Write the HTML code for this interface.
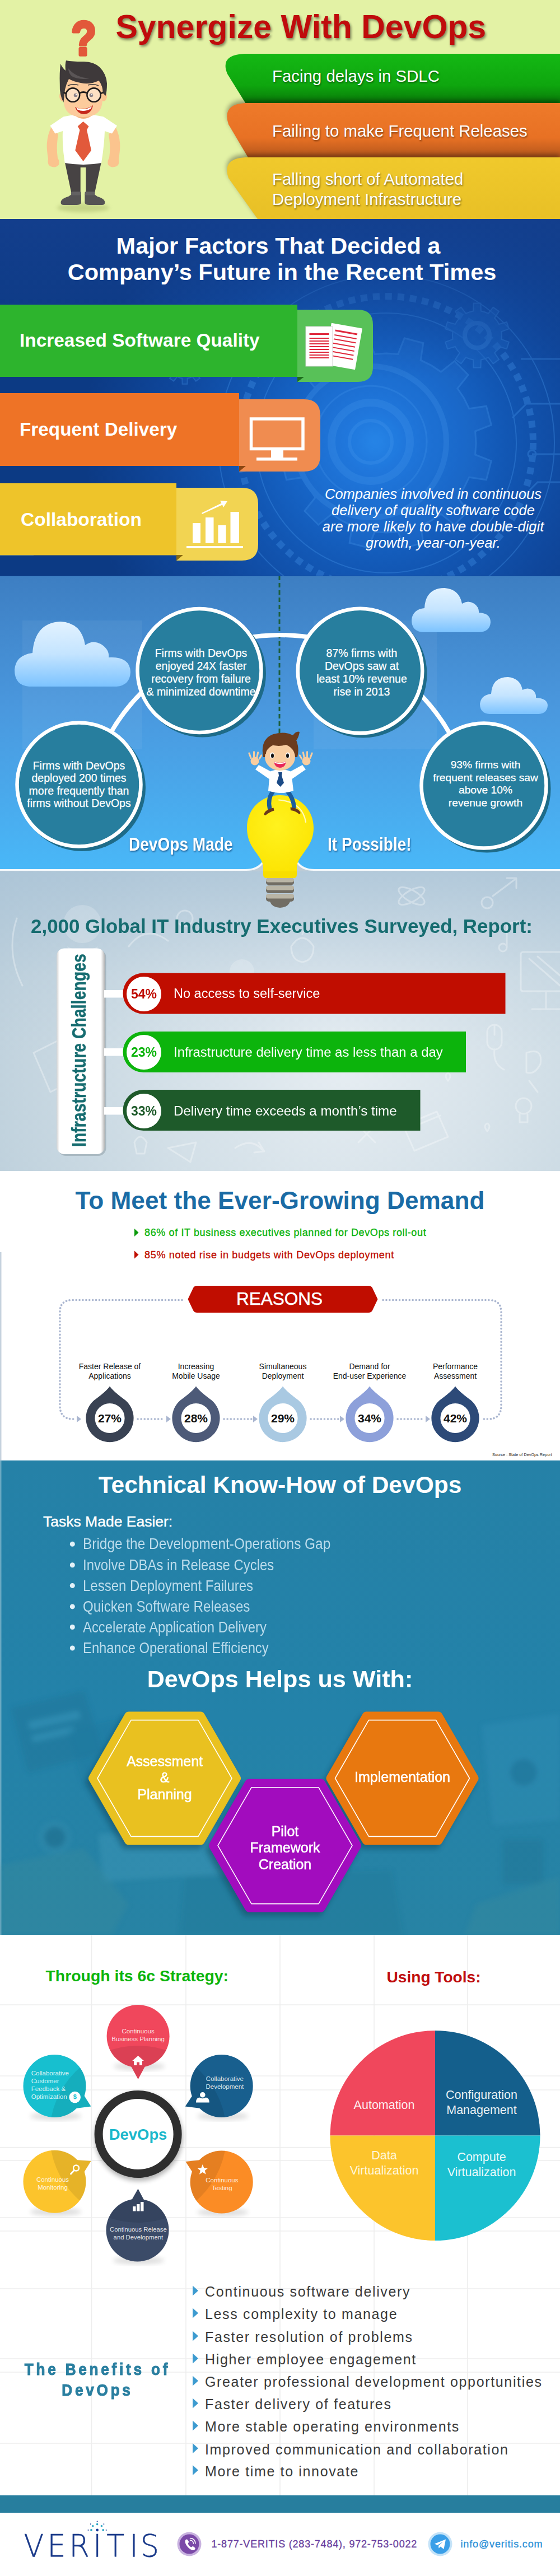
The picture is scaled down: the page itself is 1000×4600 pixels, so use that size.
<!DOCTYPE html>
<html lang="en">
<head>
<meta charset="utf-8">
<title>Synergize With DevOps</title>
<style>
html,body{margin:0;padding:0;background:#fff;}
body{width:1000px;height:4600px;position:relative;overflow:hidden;font-family:"Liberation Sans",sans-serif;}
.sec{position:absolute;left:0;width:1000px;overflow:hidden;}
.t{position:absolute;white-space:nowrap;line-height:1;}
.c{text-align:center;}
.b{font-weight:bold;}
svg{position:absolute;left:0;top:0;}
</style>
</head>
<body>
<!-- ============ HEADER ============ -->
<div class="sec" style="top:0;height:391px;background:#e3f2a5;">
<svg width="1000" height="391" viewBox="0 0 1000 391">
  <defs>
    <linearGradient id="gG" x1="0" y1="0" x2="0" y2="1"><stop offset="0" stop-color="#14b814"/><stop offset=".6" stop-color="#0ea60e"/><stop offset="1" stop-color="#086f08"/></linearGradient>
    <linearGradient id="gO" x1="0" y1="0" x2="0" y2="1"><stop offset="0" stop-color="#ee7a2a"/><stop offset=".6" stop-color="#e87124"/><stop offset="1" stop-color="#a8501a"/></linearGradient>
    <linearGradient id="gY" x1="0" y1="0" x2="0" y2="1"><stop offset="0" stop-color="#f0c92c"/><stop offset="1" stop-color="#e8c026"/></linearGradient>
    <filter id="ms" x="-20%" y="-60%" width="140%" height="220%"><feGaussianBlur stdDeviation="3"/></filter>
    <filter id="bs" x="-5%" y="-20%" width="110%" height="140%"><feGaussianBlur stdDeviation="4"/></filter>
  </defs>
  <!-- banners -->
  <path d="M1000 96 L436 96 Q392 98 406 132 L442 190 L1000 190 Z" fill="url(#gG)"/>
  <path d="M1000 182 L438 182 Q396 184 408 220 L446 286 L1000 286 Z" fill="#000" opacity=".35" filter="url(#bs)" transform="translate(0,-3)"/>
  <path d="M1000 184 L438 184 Q396 186 408 222 L447 288 L1000 288 Z" fill="url(#gO)"/>
  <path d="M1000 279 L438 279 Q396 281 408 316 L460 391 L1000 391 Z" fill="#000" opacity=".35" filter="url(#bs)" transform="translate(0,-3)"/>
  <path d="M1000 281 L438 281 Q396 283 408 318 L460 391 L1000 391 Z" fill="url(#gY)"/>

  <!-- man -->
  <ellipse cx="148.600" cy="371" rx="47" ry="8" fill="#b9c97c" opacity=".7" filter="url(#ms)"/>
  <!-- shoes -->
  <path d="M108.600 362 Q108 355 122 351 L128 347 L145 347 L145 362 Q144 366 136 366 L114 366 Q108.600 366 108.600 362 Z" fill="#555354"/>
  <path d="M187.200 362 Q188 355 174 351 L168.500 347 L151.400 347 L151.400 362 Q152 366 160 366 L182 366 Q187.200 366 187.200 362 Z" fill="#555354"/>
  <!-- pants -->
  <path d="M115.700 289 L181 289 L169 345 L153.400 345 L153.400 299 L143.700 299 L143.700 345 L127.500 345 Z" fill="#474344"/>
  <rect x="126.800" y="342.300" width="18.200" height="6.500" rx="2" fill="#636162"/>
  <rect x="151.400" y="342.300" width="18.200" height="6.500" rx="2" fill="#636162"/>
  <!-- arms -->
  <path d="M92 226 Q82 246 84 268 Q85 278 86 284 Q84 294 90 297 Q100 301 105 294 Q107 288 103 282 Q100 262 104 240 Z" fill="#fbc48e"/>
  <path d="M206 226 Q216 246 214 268 Q213 278 212 284 Q214 294 208 297 Q198 301 193 294 Q191 288 195 282 Q198 262 194 240 Z" fill="#fbc48e"/>
  <!-- shirt -->
  <path d="M113 208.500 Q149 200 185 208.500 L209 224.500 L200 238.500 L187 234 Q186 262 181 291 Q149 297 115.700 291 Q111 262 112 234 L98.500 238.500 L89.500 224.500 Z" fill="#ffffff"/>
  <!-- neck -->
  <path d="M136 200 L162 200 L162 208 Q149 216 136 208 Z" fill="#f3b47e"/>
  <!-- tie -->
  <path d="M148.600 217 L158.500 225.500 L155 232 L163 268.500 L148.600 288 L134.300 268.500 L142.500 232 L138.700 225.500 Z" fill="#e2593b"/>
  <!-- head -->
  <ellipse cx="112" cy="172" rx="6" ry="9" fill="#fbc48e"/>
  <ellipse cx="185" cy="172" rx="6" ry="9" fill="#fbc48e"/>
  <path d="M113.500 150 Q113.500 130 148 130 Q183 130 183 150 L183 178 Q183 209 148 209 Q113.500 209 113.500 178 Z" fill="#fccb9c"/>
  <!-- hair -->
  <path d="M113.500 183 Q106 170 106.800 150 Q106 130 108.100 114 Q112 122 117 126 Q116 114 118 108 Q128 110 147 110 Q166 109 178 120 Q190 132 191 149 Q191 164 188.500 171 L183.500 166 Q184 154 176.500 144 Q160 152 144 148 Q132 146 123 141 Q118 150 116 160 Q114.500 172 113.500 183 Z" fill="#3e393a"/>
  <path d="M122 122 Q134 138 160 140 Q140 143 128 136 Q122 130 122 122 Z" fill="#5a5556"/>
  <!-- eyebrows -->
  <path d="M121 153 Q130 149 140 152 M157 152 Q167 149 176 153" stroke="#3e393a" stroke-width="1.600" fill="none"/>
  <!-- glasses -->
  <circle cx="130" cy="169.600" r="12.200" fill="#fde0c4" stroke="#1f1c1c" stroke-width="2.600"/>
  <circle cx="167.600" cy="169.600" r="12.200" fill="#fde0c4" stroke="#1f1c1c" stroke-width="2.600"/>
  <path d="M142.500 166 Q149 163 155 166" stroke="#1f1c1c" stroke-width="3" fill="none"/>
  <path d="M117.800 167 L113.500 165 M179.800 167 L184.500 165" stroke="#1f1c1c" stroke-width="2.500"/>
  <circle cx="135" cy="170" r="3.300" fill="#8a8088"/><circle cx="163" cy="170" r="3.300" fill="#8a8088"/>
  <circle cx="136" cy="169" r="1.200" fill="#fff"/><circle cx="164" cy="169" r="1.200" fill="#fff"/>
  <!-- mouth -->
  <path d="M134 191 Q150 199 166 188 Q163 204 149 204 Q138 203 134 191 Z" fill="#c5281c"/>
  <path d="M136 192 Q150 199 164 190 L162.500 194 Q150 201 138.500 196 Z" fill="#fff"/>
  <!-- question mark -->
  <text x="149.500" y="98.500" font-family="Liberation Sans, sans-serif" font-weight="bold" font-size="85" fill="#e2583a" stroke="#e2583a" stroke-width="5.500" stroke-linejoin="round" text-anchor="middle" transform="translate(149.500 0) scale(.86 1) translate(-149.500 0)">?</text>
</svg>
<div class="t b" style="left:206.400px;top:19.300px;font-size:59px;color:#c00c0c;text-shadow:2px 3px 4px rgba(0,0,0,.45);">Synergize With DevOps</div>
<div class="t" style="left:486px;top:121px;font-size:29.4px;color:#fff;text-shadow:1px 2px 3px rgba(0,0,0,.45);">Facing delays in SDLC</div>
<div class="t" style="left:486px;top:219px;font-size:29.4px;color:#fff;text-shadow:1px 2px 3px rgba(0,0,0,.45);">Failing to make Frequent Releases</div>
<div class="t" style="left:486px;top:302px;font-size:29.4px;line-height:36px;color:#fff;text-shadow:1px 2px 3px rgba(0,0,0,.45);">Falling short of Automated<br>Deployment Infrastructure</div>
</div>
<!-- ============ BLUE: MAJOR FACTORS ============ -->
<div class="sec" style="top:391px;height:638px;background:#0f4696;">
<svg width="1000" height="637" viewBox="0 0 1000 637">
  <defs>
    <radialGradient id="bgB" cx="670" cy="398" r="520" gradientUnits="userSpaceOnUse">
      <stop offset="0" stop-color="#2383e6"/><stop offset=".1" stop-color="#1c74da"/><stop offset=".25" stop-color="#1767ca"/><stop offset=".45" stop-color="#1257b4"/><stop offset=".7" stop-color="#0f479c"/><stop offset="1" stop-color="#0c3a84"/>
    </radialGradient>
    <linearGradient id="bgB2" x1="0" y1="0" x2="0" y2="1"><stop offset="0" stop-color="#143f8e" stop-opacity=".85"/><stop offset=".25" stop-color="#143f8e" stop-opacity=".3"/><stop offset=".45" stop-color="#143f8e" stop-opacity="0"/></linearGradient>
  </defs>
  <rect width="1000" height="637" fill="url(#bgB)"/>
  <!-- tech decoration -->
  <g fill="none" stroke="#4a9cf0" opacity=".3">
    <path d="M850.0 400.0 L848.6 420.9 L877.3 432.2 L868.3 465.8 L837.8 461.2 L828.6 480.0 L816.9 497.4 L836.1 521.5 L811.5 546.1 L787.4 526.9 L770.0 538.6 L751.2 547.8 L755.8 578.3 L722.2 587.3 L710.9 558.6 L690.0 560.0 L669.1 558.6 L657.8 587.3 L624.2 578.3 L628.8 547.8 L610.0 538.6 L592.6 526.9 L568.5 546.1 L543.9 521.5 L563.1 497.4 L551.4 480.0 L542.2 461.2 L511.7 465.8 L502.7 432.2 L531.4 420.9 L530.0 400.0 L531.4 379.1 L502.7 367.8 L511.7 334.2 L542.2 338.8 L551.4 320.0 L563.1 302.6 L543.9 278.5 L568.5 253.9 L592.6 273.1 L610.0 261.4 L628.8 252.2 L624.2 221.7 L657.8 212.7 L669.1 241.4 L690.0 240.0 L710.9 241.4 L722.2 212.7 L755.8 221.7 L751.2 252.2 L770.0 261.4 L787.4 273.1 L811.5 253.9 L836.1 278.5 L816.9 302.6 L828.6 320.0 L837.8 338.8 L868.3 334.2 L877.3 367.8 L848.6 379.1 Z" stroke-width="3" fill="#3a8eea" fill-opacity=".45"/>
    <circle cx="662" cy="398" r="135" stroke-width="10"/>
    <circle cx="662" cy="398" r="100" stroke-width="3"/>
    <circle cx="662" cy="398" r="70" stroke-width="14"/>
    <circle cx="662" cy="398" r="38" stroke-width="6"/>
    <circle cx="690" cy="400" r="232" stroke-width="2"/>
    <circle cx="690" cy="400" r="262" stroke-width="12" stroke-dasharray="12 10"/>
    <circle cx="690" cy="400" r="300" stroke-width="2"/>
    <path d="M896.0 208.0 L895.5 214.9 L908.8 219.8 L904.9 231.9 L891.2 228.0 L887.6 233.9 L883.1 239.1 L891.0 250.9 L880.7 258.4 L872.0 247.2 L865.6 249.8 L858.9 251.5 L858.4 265.6 L845.6 265.6 L845.1 251.5 L838.4 249.8 L832.0 247.2 L823.3 258.4 L813.0 250.9 L820.9 239.1 L816.4 233.9 L812.8 228.0 L799.1 231.9 L795.2 219.8 L808.5 214.9 L808.0 208.0 L808.5 201.1 L795.2 196.2 L799.1 184.1 L812.8 188.0 L816.4 182.1 L820.9 176.9 L813.0 165.1 L823.3 157.6 L832.0 168.8 L838.4 166.2 L845.1 164.5 L845.6 150.4 L858.4 150.4 L858.9 164.5 L865.6 166.2 L872.0 168.8 L880.7 157.6 L891.0 165.1 L883.1 176.9 L887.6 182.1 L891.2 188.0 L904.9 184.1 L908.8 196.2 L895.5 201.1 Z" stroke-width="2" fill="#2f86e6" fill-opacity=".5"/>
    <circle cx="852" cy="208" r="22" stroke-width="8"/>
    <path d="M360.0 255.0 L359.6 259.7 L369.2 263.1 L366.5 271.5 L356.7 268.6 L354.3 272.6 L351.2 276.2 L356.9 284.6 L349.8 289.7 L343.6 281.7 L339.3 283.5 L334.7 284.6 L334.4 294.8 L325.6 294.8 L325.3 284.6 L320.7 283.5 L316.4 281.7 L310.2 289.7 L303.1 284.6 L308.8 276.2 L305.7 272.6 L303.3 268.6 L293.5 271.5 L290.8 263.1 L300.4 259.7 L300.0 255.0 L300.4 250.3 L290.8 246.9 L293.5 238.5 L303.3 241.4 L305.7 237.4 L308.8 233.8 L303.1 225.4 L310.2 220.3 L316.4 228.3 L320.7 226.5 L325.3 225.4 L325.6 215.2 L334.4 215.2 L334.7 225.4 L339.3 226.5 L343.6 228.3 L349.8 220.3 L356.9 225.4 L351.2 233.8 L354.3 237.4 L356.7 241.4 L366.5 238.5 L369.2 246.9 L359.6 250.3 Z" stroke-width="2" fill="#2f86e6" fill-opacity=".4"/>
    <path d="M1000 330 L940 330 L915 355 M1000 420 L950 420 M1000 470 L960 470 L935 495 M1000 250 L930 250" stroke-width="3"/>
    <circle cx="950" cy="420" r="7" stroke-width="3"/>
    <path d="M0 560 L80 560 L110 590 L260 590 M0 600 L60 600" stroke-width="3"/>
  </g>
  <rect width="1000" height="637" fill="url(#bgB2)"/>

  <!-- green -->
  <path d="M531 162 L639 162 Q666 162 666 189 L666 264 Q666 291 639 291 L531 291 Z" fill="#58c158"/>
  <path d="M531 282 L543 282 L531 291 Z" fill="#1d6e1d"/>
  <rect x="0" y="153" width="531" height="129" fill="#2db42d"/>
  <!-- doc icon -->
  <g>
    <g transform="rotate(10 613 227)">
      <rect x="585" y="190" width="56" height="75" fill="#fff"/>
      <g stroke="#e0283c"><path d="M594 202H634" stroke-width="3"/><path d="M594 210H634M594 217.500H634M594 225H634M594 232.500H634M594 240H634M594 247.500H634" stroke-width="2"/></g>
    </g>
    <rect x="546" y="192" width="48" height="71" fill="#fff" stroke="#d0d0d0" stroke-width="1"/>
    <g stroke="#e0283c"><path d="M552.500 205.500H587.500" stroke-width="3"/><path d="M552.500 213H587.500M552.500 218H587.500M552.500 223H587.500M552.500 228H587.500M552.500 233H587.500M552.500 238H587.500M552.500 243H587.500M552.500 248H587.500" stroke-width="1.800"/></g>
  </g>

  <!-- orange -->
  <path d="M427 322 L543 322 Q572 322 572 351 L572 422 Q572 451 543 451 L427 451 Z" fill="#f08c50"/>
  <path d="M427 441 L439 441 L427 451 Z" fill="#8c4612"/>
  <rect x="0" y="311" width="427" height="130" fill="#ee7326"/>
  <!-- monitor -->
  <rect x="448.5" y="357" width="92.5" height="53.5" fill="none" stroke="#fff" stroke-width="5.5"/>
  <rect x="484" y="412" width="22" height="14" fill="#fff"/>
  <rect x="458" y="426" width="73" height="5.5" fill="#fff"/>

  <!-- yellow -->
  <path d="M315 480 L432 480 Q461 480 461 509 L461 581 Q461 610 432 610 L315 610 Z" fill="#f2d452"/>
  <path d="M315 600 L327 600 L315 610 Z" fill="#8a6a10"/>
  <rect x="0" y="472" width="315" height="128.500" fill="#eec42a"/>
  <!-- bar chart -->
  <g fill="#fff">
    <rect x="344" y="543" width="14" height="36"/>
    <rect x="367" y="533" width="14.500" height="46"/>
    <rect x="389.500" y="547" width="14" height="32"/>
    <rect x="411.500" y="523" width="15.500" height="56"/>
    <rect x="333" y="584" width="101" height="4"/>
    <path d="M360 525 L361 527 L397 510.500 L399 515 L406 504 L393 503 L395.500 507.500 Z"/>
  </g>
</svg>
<div class="t b c" style="left:0;width:1000px;top:23.700px;font-size:41.5px;line-height:47.100px;color:#fff;"><span style="position:relative;left:-3px">Major Factors That Decided a</span><br><span style="position:relative;left:3.500px">Company’s Future in the Recent Times</span></div>
<div class="t b" style="left:35px;top:200px;font-size:33.4px;color:#fff;">Increased Software Quality</div>
<div class="t b" style="left:35px;top:359px;font-size:33.3px;color:#fff;">Frequent Delivery</div>
<div class="t b" style="left:37px;top:520px;font-size:33.5px;color:#fff;">Collaboration</div>
<div class="t c" style="left:573.500px;width:400px;top:477px;font-size:25.5px;line-height:29px;font-style:italic;color:#fff;">Companies involved in continuous<br>delivery of quality software code<br>are more likely to have double-digit<br>growth, year-on-year.</div>
</div>
<!-- ============ SKY: DEVOPS MADE IT POSSIBLE ============ -->
<div class="sec" style="top:1029px;height:527px;background:#4f9fe0;">
<svg width="1000" height="527" viewBox="0 1029 1000 527">
  <defs>
    <linearGradient id="sky" x1="0" y1="0" x2="0" y2="1"><stop offset="0" stop-color="#3d7ec2"/><stop offset=".45" stop-color="#4a98de"/><stop offset="1" stop-color="#49b8f8"/></linearGradient>
    <linearGradient id="cl" x1="0" y1="0" x2="0" y2="1"><stop offset="0" stop-color="#e2f2ff"/><stop offset=".5" stop-color="#c4e4ff"/><stop offset="1" stop-color="#7cc3ff"/></linearGradient>
    <radialGradient id="bulbG" cx=".45" cy=".4" r=".7"><stop offset="0" stop-color="#fff21e"/><stop offset="1" stop-color="#fce300"/></radialGradient>
  </defs>
  <rect x="0" y="1028" width="1000" height="528" fill="url(#sky)"/>
  <rect x="40" y="1108" width="214" height="230" fill="#fff" opacity=".05"/>
  <rect x="560" y="1108" width="220" height="230" fill="#fff" opacity=".05"/>
  <!-- ground -->
  <path d="M0 1552 L438 1552 Q458 1552 468 1539 L532 1539 Q542 1552 562 1552 L1000 1552 L1000 1556 L0 1556 Z" fill="#f4f8fb"/><path d="M0 1555 L440 1555 Q460 1555 469 1543 L531 1543 Q540 1555 560 1555 L1000 1555 L1000 1556 L0 1556 Z" fill="#bccbd6"/>
  <!-- clouds -->
  <g id="cloudL" fill="url(#cl)">
    <path d="M52 1226 Q26 1224 26 1196 Q28 1170 58 1166 Q62 1112 108 1110 Q146 1112 152 1152 Q166 1142 180 1150 Q196 1160 194 1174 Q232 1172 233 1200 Q232 1224 208 1226 Z"/>
  </g>
  <path fill="url(#cl)" d="M756 1129 Q735 1128 735 1107 Q737 1088 758 1086 Q760 1050 794 1050 Q820 1052 825 1078 Q836 1071 847 1078 Q856 1085 855 1094 Q876 1095 876 1111 Q875 1128 856 1129 Z"/>
  <path fill="url(#cl)" d="M874 1275 Q857 1274 857 1257 Q859 1241 877 1239 Q879 1209 907 1209 Q929 1211 933 1232 Q942 1227 951 1232 Q958 1238 957 1246 Q978 1247 978 1260 Q977 1274 962 1275 Z"/>
  <!-- dashed line -->
  <path d="M499 1028 L499 1310" stroke="#1d5f3c" stroke-width="3" stroke-dasharray="8 5" fill="none"/>
  <!-- arc -->
  <path d="M151 1483 A349 349 0 0 1 849 1483" fill="none" stroke="#fff" stroke-width="8"/>
  <!-- circles -->
  <g>
    <circle cx="146.500" cy="1406.500" r="113.500" fill="#1e6b88"/><circle cx="141" cy="1401" r="110.500" fill="#277e9e" stroke="#fff" stroke-width="6.500"/>
    <circle cx="361.500" cy="1203" r="113.500" fill="#1e6b88"/><circle cx="356" cy="1197.500" r="110.500" fill="#277e9e" stroke="#fff" stroke-width="6.500"/>
    <circle cx="648.500" cy="1203.500" r="114" fill="#1e6b88"/><circle cx="643" cy="1198" r="111.250" fill="#277e9e" stroke="#fff" stroke-width="6.500"/>
    <circle cx="869.500" cy="1408.500" r="114" fill="#1e6b88"/><circle cx="864" cy="1403" r="111.500" fill="#277e9e" stroke="#fff" stroke-width="6.500"/>
  </g>
  <!-- bulb -->
  <path d="M500 1420 C535 1420 560 1446 560 1478 C560 1500 550 1512 543 1522 C536 1532 531 1538 530 1548 L530 1556 L470 1556 L470 1548 C469 1538 464 1532 457 1522 C450 1512 441 1500 441 1478 C441 1446 465 1420 500 1420 Z" fill="url(#bulbG)"/>
  <path d="M498 1428.500 Q540 1432 546 1468" fill="none" stroke="#fffbd0" stroke-width="2.200" stroke-linecap="round" opacity=".9"/>
  <!-- person -->
  <!-- legs -->
  <path d="M487 1414 Q478 1426 481.500 1443" fill="none" stroke="#1b5c9c" stroke-width="7.500" stroke-linecap="round"/>
  <path d="M514 1414 Q524 1426 525 1441" fill="none" stroke="#1b5c9c" stroke-width="7.500" stroke-linecap="round"/>
  <path d="M471.500 1455 Q472 1446 488.500 1442.500 L489.500 1447.500 Q481 1450 474 1456 Z" fill="#6a3a1c"/>
  <path d="M536.800 1452 Q534 1443 518.500 1441.500 L519 1447 Q528 1448 534.500 1454 Z" fill="#6a3a1c"/>
  <!-- arms -->
  <path d="M484 1378 L462 1366 L456 1374 L482 1392 Z" fill="#fff"/>
  <path d="M518 1378 L540 1366 L546 1374 L520 1392 Z" fill="#fff"/>
  <g fill="#f9cda0">
    <circle cx="455" cy="1359" r="7.500"/><rect x="447" y="1343" width="3" height="12" rx="1.500" transform="rotate(-20 448 1355)"/><rect x="452" y="1341" width="3" height="13" rx="1.500"/><rect x="457" y="1342" width="3" height="12" rx="1.500" transform="rotate(12 458 1354)"/><rect x="461" y="1346" width="3" height="10" rx="1.500" transform="rotate(30 462 1356)"/>
    <circle cx="547" cy="1359" r="7.500"/><rect x="552" y="1343" width="3" height="12" rx="1.500" transform="rotate(20 554 1355)"/><rect x="547" y="1341" width="3" height="13" rx="1.500"/><rect x="542" y="1342" width="3" height="12" rx="1.500" transform="rotate(-12 544 1354)"/><rect x="538" y="1346" width="3" height="10" rx="1.500" transform="rotate(-30 540 1356)"/>
  </g>
  <!-- body -->
  <path d="M482 1378 Q500 1370 520 1378 L524 1412 Q502 1420 479 1412 Z" fill="#fff"/>
  <path d="M497 1379 L504 1379 L503 1385 L507 1398 L500.500 1405 L494 1398 L498 1385 Z" fill="#1b4a86"/>
  <!-- head -->
  <path d="M470 1352 Q464 1320 488 1311 Q508 1305 523 1313 Q529 1305 535 1307 Q533 1318 529 1322 Q535 1336 531 1352 Z" fill="#6b3c1e"/>
  <ellipse cx="500" cy="1352" rx="27" ry="24" fill="#f9cda0"/>
  <path d="M472 1346 Q468 1322 488 1312 Q508 1306 523 1314 L529 1322 Q533 1334 529 1346 L526 1346 Q526 1334 519 1327 Q500 1336 481 1329 Q475 1336 475 1346 Z" fill="#6b3c1e"/>
  <ellipse cx="486" cy="1349" rx="4" ry="5.500" fill="#fff"/><ellipse cx="514" cy="1349" rx="4" ry="5.500" fill="#fff"/>
  <ellipse cx="486.500" cy="1349.500" rx="2.500" ry="4" fill="#111"/><ellipse cx="513.500" cy="1349.500" rx="2.500" ry="4" fill="#111"/>
  <path d="M489 1360 Q500 1364 511 1360 Q509 1371 500 1371 Q491 1371 489 1360 Z" fill="#e8275a"/>
  <path d="M490 1360.500 Q500 1364 510 1360.500 L509.500 1362.500 Q500 1366 490.500 1362.500 Z" fill="#fff"/>
</svg>
<div class="t c" style="left:31px;width:220px;top:327px;font-size:19.5px;line-height:22.4px;color:#fff;-webkit-text-stroke:.25px #fff;">Firms with DevOps<br>deployed 200 times<br>more frequently than<br>firms without DevOps</div>
<div class="t c" style="left:249px;width:220px;top:126px;font-size:19.5px;line-height:22.9px;color:#fff;-webkit-text-stroke:.25px #fff;">Firms with DevOps<br>enjoyed 24X faster<br>recovery from failure<br>&amp; minimized downtime</div>
<div class="t c" style="left:536px;width:220px;top:126px;font-size:19.5px;line-height:22.9px;color:#fff;-webkit-text-stroke:.25px #fff;">87% firms with<br>DevOps saw at<br>least 10% revenue<br>rise in 2013</div>
<div class="t c" style="left:757px;width:220px;top:326px;font-size:19.2px;line-height:22.7px;color:#fff;-webkit-text-stroke:.25px #fff;">93% firms with<br>frequent releases saw<br>above 10%<br>revenue growth</div>
<div class="t b" style="left:230px;top:462px;font-size:33px;color:#fff;text-shadow:1px 2px 3px rgba(0,40,90,.6);transform:scaleX(.85);transform-origin:0 0;">DevOps Made</div>
<div class="t b" style="left:585px;top:462px;font-size:33px;color:#fff;text-shadow:1px 2px 3px rgba(0,40,90,.6);transform:scaleX(.85);transform-origin:0 0;">It Possible!</div>
</div>
<!-- ============ SURVEY ============ -->
<div class="sec" style="top:1556px;height:535px;background:#d3dde4;">
<svg width="1000" height="535" viewBox="0 1556 1000 535">
  <defs>
    <radialGradient id="gr" cx="620" cy="1900" r="700" gradientUnits="userSpaceOnUse"><stop offset="0" stop-color="#e6edf2"/><stop offset=".5" stop-color="#d2dfe7"/><stop offset="1" stop-color="#bccfdb"/></radialGradient>
    <linearGradient id="grT" x1="0" y1="0" x2="0" y2="1"><stop offset="0" stop-color="#a8c2d6" stop-opacity=".75"/><stop offset=".35" stop-color="#a8c2d6" stop-opacity=".15"/><stop offset=".6" stop-color="#a8c2d6" stop-opacity="0"/></linearGradient>
    <linearGradient id="lbl" x1="0" y1="0" x2="1" y2="0"><stop offset="0" stop-color="#d0d0d0"/><stop offset=".06" stop-color="#fff"/><stop offset=".92" stop-color="#fff"/><stop offset="1" stop-color="#b5b5b5"/></linearGradient>
  </defs>
  <rect x="0" y="1556" width="1000" height="535" fill="url(#gr)"/><rect x="0" y="1556" width="1000" height="535" fill="url(#grT)"/>
  <!-- doodles -->
  <g fill="none" stroke="#fff" stroke-width="3" opacity=".32" stroke-linecap="round" stroke-linejoin="round">
    <rect x="930" y="1700" width="90" height="70" rx="4"/><path d="M945 1712 L1000 1760 M960 1708 L1000 1742 M975 1770 L975 1800 M950 1802 L1000 1802"/>
    <path d="M880 1600 L920 1570 M905 1568 L922 1568 L922 1586"/><circle cx="870" cy="1612" r="10"/>
    <ellipse cx="735" cy="1600" rx="26" ry="10" transform="rotate(30 735 1600)"/><ellipse cx="735" cy="1600" rx="26" ry="10" transform="rotate(-30 735 1600)"/>
    <path d="M905 1650 L905 1690 M905 1650 L925 1645"/><circle cx="898" cy="1692" r="7"/>
    <path d="M620 1660 Q612 1650 620 1646 Q628 1650 620 1660 Z"/>
    <rect x="870" y="1830" width="26" height="44" rx="13"/><path d="M883 1830 L883 1848 M883 1874 Q880 1900 900 1910"/>
    <path d="M940 1880 Q970 1870 965 1900 Q955 1920 940 1915 Z"/><path d="M945 1930 L960 1950"/>
    <circle cx="935" cy="1975" r="14"/><path d="M928 1990 L928 2004 L942 2004 L942 1990"/>
    <path d="M800 1930 Q792 1920 800 1916 Q808 1920 800 1930 Z M870 2020 Q862 2010 870 2006 Q878 2010 870 2020 Z"/>
    <path d="M720 2010 L780 1985 L800 2030 L740 2055 Z M728 2016 L786 1992"/>
    <path d="M640 2010 L670 2040 M670 2010 L640 2040"/>
    <path d="M60 1880 L120 1850 L150 1920 L90 1950 Z"/>
    <path d="M230 1690 Q260 1650 300 1680"/><circle cx="330" cy="1640" r="14"/>
    <path d="M300 2050 L350 2040 L340 2075 Z M240 2040 Q250 2020 262 2040 L258 2060 L244 2060 Z"/>
    <path d="M420 2050 Q450 2030 470 2055 M462 2040 L472 2056 L454 2058"/>
    <path d="M30 1640 Q10 1700 40 1760"/>
    <path d="M520 1690 Q540 1660 560 1690 Q560 1715 540 1718 Q520 1715 520 1690 Z M540 1668 L545 1655"/>
  </g>
  <g fill="#fff" opacity=".2"><circle cx="147" cy="1650" r="34"/><path d="M120 1690 Q147 1705 175 1690 L168 1712 L126 1712 Z"/><circle cx="432" cy="1735" r="22"/></g>
  <!-- bulb base -->
  <path d="M470 1556 L530 1556 L530 1562 Q530 1568 524 1568 L476 1568 Q470 1568 470 1562 Z" fill="#f8de00"/>
  <g>
    <rect x="475" y="1568" width="50" height="12.500" rx="5" fill="#716d64"/><rect x="475" y="1568" width="50" height="7.500" rx="4" fill="#b9b5a6"/>
    <rect x="475" y="1581.500" width="50" height="13.500" rx="5" fill="#716d64"/><rect x="475" y="1581.500" width="50" height="8" rx="4" fill="#b9b5a6"/>
    <rect x="475" y="1596.500" width="50" height="13.500" rx="5" fill="#716d64"/><rect x="475" y="1596.500" width="50" height="8" rx="4" fill="#b9b5a6"/>
    <path d="M482 1610 L518 1610 Q514 1620.500 500 1621 Q486 1620.500 482 1610 Z" fill="#716d64"/>
  </g>
  <!-- label box -->
  <rect x="103.500" y="1696" width="86" height="368" rx="14" fill="#7a8a90" opacity=".4"/>
  <rect x="101" y="1693.500" width="86" height="367.500" rx="14" fill="url(#lbl)"/>
  <!-- connectors -->
  <g fill="#fff"><rect x="186" y="1768" width="44" height="13.500"/><rect x="186" y="1872" width="44" height="13.500"/><rect x="186" y="1977" width="44" height="13.500"/></g>
  <!-- bars -->
  <path d="M256 1737.500 L902.500 1737.500 L902.500 1810.500 L256 1810.500 A36.500 36.500 0 0 1 256 1737.500 Z" fill="#c00d00"/>
  <path d="M256 1842 L832 1842 L832 1915 L256 1915 A36.500 36.500 0 0 1 256 1842 Z" fill="#0cb40c"/>
  <path d="M256 1946 L750.500 1946 L750.500 2019 L256 2019 A36.500 36.500 0 0 1 256 1946 Z" fill="#1e5a2a"/>
  <g fill="#fff"><circle cx="257" cy="1775" r="31"/><circle cx="257" cy="1879" r="31"/><circle cx="257" cy="1984" r="31"/></g>
</svg>
<div class="t b c" style="left:3px;width:1000px;top:81px;font-size:34.9px;color:#166c70;">2,000 Global IT Industry Executives Surveyed, Report:</div>
<div class="t b" style="left:122.500px;top:492px;font-size:35px;color:#166c70;-webkit-text-stroke:.5px #166c70;transform-origin:0 0;transform:rotate(-90deg) scaleX(.8135);">Infrastructure Challenges</div>
<div class="t b c" style="left:227px;width:60px;top:207.5px;font-size:23px;color:#c00d00;">54%</div>
<div class="t b c" style="left:227px;width:60px;top:311.5px;font-size:23px;color:#0cb40c;">23%</div>
<div class="t b c" style="left:227px;width:60px;top:416.5px;font-size:23px;color:#1e5a2a;">33%</div>
<div class="t" style="left:310px;top:207px;font-size:23.5px;color:#fff;">No access to self-service</div>
<div class="t" style="left:310px;top:311px;font-size:23.9px;color:#fff;">Infrastructure delivery time as less than a day</div>
<div class="t" style="left:310px;top:416px;font-size:24.1px;color:#fff;">Delivery time exceeds a month’s time</div>
</div>
<!-- ============ DEMAND ============ -->
<div class="sec" style="top:2091px;height:517px;background:#fff;">
<svg width="1000" height="517" viewBox="0 2091 1000 517">
  <rect x="0" y="2236" width="2.500" height="372" fill="#c5d2de"/>
  
  <!-- reasons banner -->
  <path d="M335.500 2320 L345 2300 Q347 2296 352 2296 L658 2296 Q663 2296 665 2300 L674.500 2320 L665 2340 Q663 2344 658 2344 L352 2344 Q347 2344 345 2340 Z" fill="#c00d00"/>
  <!-- dotted frame -->
  <g fill="none" stroke="#aab6d0" stroke-width="3.600" stroke-linecap="round" stroke-dasharray="0.1 5.800">
    <path d="M325 2321.500 L129 2321.500 Q107 2321.500 107 2343 L107 2510 Q107 2534 130 2534 L134 2534"/>
    <path d="M684 2321.500 L873 2321.500 Q895 2321.500 895 2343 L895 2510 Q895 2534 872 2534 L862 2534"/>
  </g>
  <path d="M137 2528 L145 2534 L137 2540 Z" fill="#aab6d0"/>
  <!-- bullets -->
  <path d="M240 2194 L247.500 2201 L240 2208 Z" fill="#0a9a0a"/>
  <path d="M240 2233.500 L247.500 2240.500 L240 2247.500 Z" fill="#c00d00"/>
  <path d="M196 2475.5 Q202.0 2484.5 224.3 2500.7 A42.6 42.6 0 1 1 167.7 2500.7 Q190.0 2484.5 196 2475.5 Z" fill="#394253"/><circle cx="196" cy="2532.5" r="26.6" fill="#fff"/><path d="M350 2475.5 Q356.0 2484.5 378.3 2500.7 A42.6 42.6 0 1 1 321.7 2500.7 Q344.0 2484.5 350 2475.5 Z" fill="#4d5a78"/><circle cx="350" cy="2532.5" r="26.6" fill="#fff"/><path d="M505 2475.5 Q511.0 2484.5 533.3 2500.7 A42.6 42.6 0 1 1 476.7 2500.7 Q499.0 2484.5 505 2475.5 Z" fill="#a9c9e2"/><circle cx="505" cy="2532.5" r="26.6" fill="#fff"/><path d="M660 2475.5 Q666.0 2484.5 688.3 2500.7 A42.6 42.6 0 1 1 631.7 2500.7 Q654.0 2484.5 660 2475.5 Z" fill="#8da0da"/><circle cx="660" cy="2532.5" r="26.6" fill="#fff"/><path d="M813 2475.5 Q819.0 2484.5 841.3 2500.7 A42.6 42.6 0 1 1 784.7 2500.7 Q807.0 2484.5 813 2475.5 Z" fill="#2d4a78"/><circle cx="813" cy="2532.5" r="26.6" fill="#fff"/><path d="M246 2534 L294 2534" stroke="#aab6d0" stroke-width="3.600" stroke-linecap="round" stroke-dasharray="0.1 6" fill="none"/><path d="M297 2528 L305 2534 L297 2540 Z" fill="#aab6d0"/><path d="M400 2534 L449 2534" stroke="#aab6d0" stroke-width="3.600" stroke-linecap="round" stroke-dasharray="0.1 6" fill="none"/><path d="M452 2528 L460 2534 L452 2540 Z" fill="#aab6d0"/><path d="M555 2534 L604 2534" stroke="#aab6d0" stroke-width="3.600" stroke-linecap="round" stroke-dasharray="0.1 6" fill="none"/><path d="M607 2528 L615 2534 L607 2540 Z" fill="#aab6d0"/><path d="M710 2534 L757 2534" stroke="#aab6d0" stroke-width="3.600" stroke-linecap="round" stroke-dasharray="0.1 6" fill="none"/><path d="M760 2528 L768 2534 L760 2540 Z" fill="#aab6d0"/>
</svg>
<div class="t b c" style="left:0;width:1000px;top:31px;font-size:44.2px;color:#1a6ba5;">To Meet the Ever-Growing Demand</div>
<div class="t" style="left:258px;top:101px;font-size:18px;letter-spacing:.62px;-webkit-text-stroke:.35px #0cb40c;color:#0cb40c;">86% of IT business executives planned for DevOps roll-out</div>
<div class="t" style="left:258px;top:140.500px;font-size:18px;letter-spacing:.68px;-webkit-text-stroke:.35px #c00d00;color:#c00d00;">85% noted rise in budgets with DevOps deployment</div>
<div class="t c" style="left:329.500px;width:339px;top:213px;font-size:31.5px;color:#fff;-webkit-text-stroke:.5px #fff;">REASONS</div>
<div class="t b c" style="left:156px;width:80px;top:431.0px;font-size:21px;color:#111;">27%</div><div class="t c" style="left:116px;width:160px;top:341px;font-size:14px;line-height:17.3px;color:#111;">Faster Release of<br>Applications</div><div class="t b c" style="left:310px;width:80px;top:431.0px;font-size:21px;color:#111;">28%</div><div class="t c" style="left:270px;width:160px;top:341px;font-size:14px;line-height:17.3px;color:#111;">Increasing<br>Mobile Usage</div><div class="t b c" style="left:465px;width:80px;top:431.0px;font-size:21px;color:#111;">29%</div><div class="t c" style="left:425px;width:160px;top:341px;font-size:14px;line-height:17.3px;color:#111;">Simultaneous<br>Deployment</div><div class="t b c" style="left:620px;width:80px;top:431.0px;font-size:21px;color:#111;">34%</div><div class="t c" style="left:580px;width:160px;top:341px;font-size:14px;line-height:17.3px;color:#111;">Demand for<br>End-user Experience</div><div class="t b c" style="left:773px;width:80px;top:431.0px;font-size:21px;color:#111;">42%</div><div class="t c" style="left:733px;width:160px;top:341px;font-size:14px;line-height:17.3px;color:#111;">Performance<br>Assessment</div>
<div class="t" style="left:879px;top:503px;font-size:7.3px;color:#333;">Source : State of DevOps Report</div>
</div>
<!-- ============ TECHNICAL KNOW-HOW ============ -->
<div class="sec" style="top:2608px;height:846.500px;background:#2781a4;">
<svg width="1000" height="848" viewBox="0 2608 1000 848">
  <defs>
    <linearGradient id="tl" x1="0" y1="0" x2="0" y2="1"><stop offset="0" stop-color="#2581a7"/><stop offset=".55" stop-color="#2382a9"/><stop offset="1" stop-color="#2783a4"/></linearGradient>
    <filter id="ph" x="-5%" y="-5%" width="110%" height="110%"><feGaussianBlur stdDeviation="5"/></filter>
    <filter id="hs" x="-10%" y="-10%" width="120%" height="120%"><feGaussianBlur stdDeviation="5"/></filter>
  </defs>
  <rect x="0" y="2608" width="1000" height="848" fill="url(#tl)"/>
  <rect x="0" y="2608" width="2.500" height="848" fill="#6aa9c2"/>
  <!-- faint desk photo hints -->
  <g opacity=".55" filter="url(#ph)">
    <path d="M20 3050 L150 3020 L185 3130 L50 3165 Z" fill="#1c6d90" opacity=".55"/>
    <path d="M50 3075 L140 3055 L144 3068 L54 3088 Z M56 3100 L130 3083 L133 3094 L59 3111 Z" fill="#4aa6cc" opacity=".6"/>
    <path d="M120 3090 L260 3060 L290 3160 L150 3190 Z" fill="#1f7398" opacity=".4"/>
    <circle cx="98" cy="3281" r="30" fill="#3b93b4" opacity=".5"/><circle cx="98" cy="3281" r="19" fill="#185f7c" opacity=".7"/>
    <path d="M175 3275 L400 3262 L415 3345 L185 3360 Z" fill="#5db0cc" opacity=".4"/>
    <path d="M0 3330 L150 3300 L230 3400 L200 3456 L0 3456 Z" fill="#3f8f9c" opacity=".5"/>
    <path d="M330 3350 L700 3340 L720 3456 L320 3456 Z" fill="#1e6f8c" opacity=".35"/>
    <path d="M860 3080 L1000 3060 L1000 3250 L880 3260 Z" fill="#3d9cc2" opacity=".4"/>
    <circle cx="935" cy="3165" r="24" fill="#1b6888" opacity=".6"/>
    <rect x="898" y="3285" width="72" height="80" rx="6" fill="#1e6f8c" opacity=".55"/>
    <path d="M1000 3350 L850 3400 L830 3456 L1000 3456 Z" fill="#3f8f9c" opacity=".5"/>
  </g>
  <polygon points="417.0,3182.5 353.0,3293.4 225.0,3293.4 161.0,3182.5 225.0,3071.6 353.0,3071.6" fill="#0d3d52" stroke="#0d3d52" stroke-width="16" stroke-linejoin="round" opacity=".45" filter="url(#hs)"/><polygon points="422.0,3175.5 358.0,3286.4 230.0,3286.4 166.0,3175.5 230.0,3064.6 358.0,3064.6" fill="#e9c120" stroke="#e9c120" stroke-width="16" stroke-linejoin="round"/><polygon points="414.0,3175.5 354.0,3279.4 234.0,3279.4 174.0,3175.5 234.0,3071.6 354.0,3071.6" fill="none" stroke="#fff" stroke-width="1.6" stroke-linejoin="round"/><polygon points="841.5,3182.5 777.5,3293.4 649.5,3293.4 585.5,3182.5 649.5,3071.6 777.5,3071.6" fill="#0d3d52" stroke="#0d3d52" stroke-width="16" stroke-linejoin="round" opacity=".45" filter="url(#hs)"/><polygon points="846.5,3175.5 782.5,3286.4 654.5,3286.4 590.5,3175.5 654.5,3064.6 782.5,3064.6" fill="#e8780f" stroke="#e8780f" stroke-width="16" stroke-linejoin="round"/><polygon points="838.5,3175.5 778.5,3279.4 658.5,3279.4 598.5,3175.5 658.5,3071.6 778.5,3071.6" fill="none" stroke="#fff" stroke-width="1.6" stroke-linejoin="round"/><polygon points="632.0,3302.7 568.0,3413.6 440.0,3413.6 376.0,3302.7 440.0,3191.8 568.0,3191.8" fill="#0d3d52" stroke="#0d3d52" stroke-width="16" stroke-linejoin="round" opacity=".45" filter="url(#hs)"/><polygon points="637.0,3295.7 573.0,3406.6 445.0,3406.6 381.0,3295.7 445.0,3184.8 573.0,3184.8" fill="#a20cbe" stroke="#a20cbe" stroke-width="16" stroke-linejoin="round"/><polygon points="629.0,3295.7 569.0,3399.6 449.0,3399.6 389.0,3295.7 449.0,3191.8 569.0,3191.8" fill="none" stroke="#fff" stroke-width="1.6" stroke-linejoin="round"/>
<circle cx="129.300" cy="2757.3" r="4.500" fill="#e2f1f8"/><circle cx="129.300" cy="2794.8" r="4.500" fill="#e2f1f8"/><circle cx="129.300" cy="2831.4" r="4.500" fill="#e2f1f8"/><circle cx="129.300" cy="2868.9" r="4.500" fill="#e2f1f8"/><circle cx="129.300" cy="2905.5" r="4.500" fill="#e2f1f8"/><circle cx="129.300" cy="2943.0" r="4.500" fill="#e2f1f8"/>
</svg>
<div class="t b c" style="left:0;width:1000px;top:23px;font-size:42.5px;color:#fff;">Technical Know-How of DevOps</div>
<div class="t" style="left:77px;top:95.500px;font-size:26.5px;color:#fff;-webkit-text-stroke:.4px #fff;">Tasks Made Easier:</div>

<div class="t" style="left:147.500px;top:135.4px;font-size:27.4px;color:#bcdcec;transform:scaleX(0.891);transform-origin:0 0;">Bridge the Development-Operations Gap</div><div class="t" style="left:147.500px;top:172.9px;font-size:27.4px;color:#bcdcec;transform:scaleX(0.872);transform-origin:0 0;">Involve DBAs in Release Cycles</div><div class="t" style="left:147.500px;top:209.5px;font-size:27.4px;color:#bcdcec;transform:scaleX(0.876);transform-origin:0 0;">Lessen Deployment Failures</div><div class="t" style="left:147.500px;top:247.0px;font-size:27.4px;color:#bcdcec;transform:scaleX(0.883);transform-origin:0 0;">Quicken Software Releases</div><div class="t" style="left:147.500px;top:283.6px;font-size:27.4px;color:#bcdcec;transform:scaleX(0.872);transform-origin:0 0;">Accelerate Application Delivery</div><div class="t" style="left:147.500px;top:321.1px;font-size:27.4px;color:#bcdcec;transform:scaleX(0.869);transform-origin:0 0;">Enhance Operational Efficiency</div>
<div class="t b c" style="left:0;width:1000px;top:369px;font-size:43.2px;color:#fff;">DevOps Helps us With:</div>
<div class="t c" style="left:194px;width:200px;top:522.500px;font-size:25px;line-height:29.6px;color:#fff;-webkit-text-stroke:.55px #fff;">Assessment<br>&amp;<br>Planning</div>
<div class="t c" style="left:618.500px;width:200px;top:553px;font-size:25px;color:#fff;-webkit-text-stroke:.55px #fff;">Implementation</div>
<div class="t c" style="left:409px;width:200px;top:647.500px;font-size:25px;line-height:29.6px;color:#fff;-webkit-text-stroke:.55px #fff;">Pilot<br>Framework<br>Creation</div>
</div>
<!-- ============ 6C STRATEGY / TOOLS / BENEFITS ============ -->
<div class="sec" style="top:3456px;height:1000px;background:#fff;">
<svg width="1000" height="1000" viewBox="0 3456 1000 1000">
<defs><clipPath id="cp_red"><circle cx="246.6" cy="3636" r="56"/></clipPath><clipPath id="cp_blue"><circle cx="395.7" cy="3725" r="56"/></clipPath><clipPath id="cp_orange"><circle cx="395.7" cy="3896.6" r="56"/></clipPath><clipPath id="cp_slate"><circle cx="245.5" cy="3982.5" r="56"/></clipPath><clipPath id="cp_yellow"><circle cx="97.5" cy="3895.8" r="56"/></clipPath><clipPath id="cp_cyan"><circle cx="97.5" cy="3725" r="56"/></clipPath><clipPath id="cp_all"><circle cx="246.6" cy="3636" r="56"/><polygon points="232,3686 261,3686 246.6,3713"/><circle cx="395.7" cy="3725" r="56"/><polygon points="330.7,3761.6 347,3737 359,3765"/><circle cx="395.7" cy="3896.6" r="56"/><polygon points="331.4,3860 359,3857 347,3884"/><circle cx="245.5" cy="3982.5" r="56"/><polygon points="232,3934 260,3934 246.5,3908.6"/><circle cx="97.5" cy="3895.8" r="56"/><polygon points="162.5,3859 135,3857 147,3884"/><circle cx="97.5" cy="3725" r="56"/><polygon points="162.5,3761.6 147,3737 135,3765"/></clipPath><filter id="bsh" x="-20%" y="-20%" width="140%" height="140%"><feGaussianBlur stdDeviation="4"/></filter></defs><path d="M163.5 3456 L163.5 4456 M332 3456 L332 4456 M500 3456 L500 4456 M668 3456 L668 4456 M835 3456 L835 4456 M0 3580 L1000 3580 M0 3707 L1000 3707 M0 3732 L1000 3732 M0 3834.6 L1000 3834.6 M0 3858 L1000 3858 M0 3960 L1000 3960 M0 3984 L1000 3984 M0 4087 L1000 4087 M0 4212 L1000 4212 M0 4236 L1000 4236 M0 4363 L1000 4363" stroke="#eeeeee" stroke-width="1.600" fill="none"/><ellipse cx="248.6" cy="3690" rx="46" ry="7" fill="#000" opacity=".13" filter="url(#bsh)"/><polygon points="232,3686 261,3686 246.6,3713" fill="#f0475c"/><circle cx="246.6" cy="3636" r="56" fill="#f0475c"/><ellipse cx="397.7" cy="3779" rx="46" ry="7" fill="#000" opacity=".13" filter="url(#bsh)"/><polygon points="330.7,3761.6 347,3737 359,3765" fill="#185f8e"/><circle cx="395.7" cy="3725" r="56" fill="#185f8e"/><ellipse cx="397.7" cy="3950.6" rx="46" ry="7" fill="#000" opacity=".13" filter="url(#bsh)"/><polygon points="331.4,3860 359,3857 347,3884" fill="#fb8c25"/><circle cx="395.7" cy="3896.6" r="56" fill="#fb8c25"/><ellipse cx="247.5" cy="4036.5" rx="46" ry="7" fill="#000" opacity=".13" filter="url(#bsh)"/><polygon points="232,3934 260,3934 246.5,3908.6" fill="#3b4b68"/><circle cx="245.5" cy="3982.5" r="56" fill="#3b4b68"/><ellipse cx="99.5" cy="3949.8" rx="46" ry="7" fill="#000" opacity=".13" filter="url(#bsh)"/><polygon points="162.5,3859 135,3857 147,3884" fill="#fcc42c"/><circle cx="97.5" cy="3895.8" r="56" fill="#fcc42c"/><ellipse cx="99.5" cy="3779" rx="46" ry="7" fill="#000" opacity=".13" filter="url(#bsh)"/><polygon points="162.5,3761.6 147,3737 135,3765" fill="#17bfcf"/><circle cx="97.5" cy="3725" r="56" fill="#17bfcf"/><circle cx="246.600" cy="3811" r="158" fill="#000" opacity=".085" clip-path="url(#cp_all)"/><circle cx="247.6" cy="3816" r="71" fill="none" stroke="#000" stroke-width="15" opacity=".3" filter="url(#bsh)"/><circle cx="246.6" cy="3811" r="70.5" fill="#fff" stroke="#2f2f2f" stroke-width="15"/><g fill="#fff">
<path d="M246.6 3671 L257 3680 L254 3680 L254 3688 L249 3688 L249 3682.500 L244.200 3682.500 L244.200 3688 L239.200 3688 L239.200 3680 L236.200 3680 Z"/>
<circle cx="133.700" cy="3745" r="10.300"/>
<circle cx="361.800" cy="3740.800" r="4.800"/><path d="M350 3754.500 Q350 3746 356 3745.500 Q361.800 3749 367.600 3745.500 Q373.800 3746 373.800 3754.500 Z"/>
<path d="M361.8 3865.0 L364.3 3871.4 L371.1 3871.8 L365.8 3876.1 L367.6 3882.7 L361.8 3879.0 L356.0 3882.7 L357.8 3876.1 L352.5 3871.8 L359.3 3871.4 Z"/>
<rect x="237" y="3940" width="5.500" height="8.500"/><rect x="244" y="3936" width="5.500" height="12.500"/><rect x="251" y="3932" width="5.500" height="16.500"/>
</g>
<circle cx="136" cy="3871.500" r="5" fill="none" stroke="#fff" stroke-width="2.400"/><path d="M132.500 3875.500 L126.500 3882" stroke="#fff" stroke-width="3" stroke-linecap="round"/>
<path d="M777 3813.5 L589.5 3813.5 A187.5 187.5 0 0 1 777 3626.0 Z" fill="#f0475c"/><path d="M777 3813.5 L777 3626.0 A187.5 187.5 0 0 1 964.5 3813.5 Z" fill="#145f8c"/><path d="M777 3813.5 L964.5 3813.5 A187.5 187.5 0 0 1 777 4001.0 Z" fill="#1bc0d0"/><path d="M777 3813.5 L777 4001.0 A187.5 187.5 0 0 1 589.5 3813.5 Z" fill="#fcc42c"/><path d="M344 4081.5 L354 4090.5 L344 4099.5 Z" fill="#3d9bd0"/><path d="M344 4121.5 L354 4130.5 L344 4139.5 Z" fill="#3d9bd0"/><path d="M344 4162.5 L354 4171.5 L344 4180.5 Z" fill="#3d9bd0"/><path d="M344 4202.5 L354 4211.5 L344 4220.5 Z" fill="#3d9bd0"/><path d="M344 4242.5 L354 4251.5 L344 4260.5 Z" fill="#3d9bd0"/><path d="M344 4282.5 L354 4291.5 L344 4300.5 Z" fill="#3d9bd0"/><path d="M344 4322.5 L354 4331.5 L344 4340.5 Z" fill="#3d9bd0"/><path d="M344 4363.0 L354 4372.0 L344 4381.0 Z" fill="#3d9bd0"/><path d="M344 4402.0 L354 4411.0 L344 4420.0 Z" fill="#3d9bd0"/>
</svg>
<div class="t b" style="left:81.500px;top:58.300px;font-size:28.4px;color:#0cb40c;">Through its 6c Strategy:</div>
<div class="t b" style="left:690.500px;top:60.500px;font-size:28.1px;color:#c00d0d;">Using Tools:</div>
<div class="t" style="left:366px;top:624.0px;font-size:25px;letter-spacing:1.65px;color:#3a3a3a;">Continuous software delivery</div><div class="t" style="left:366px;top:664.0px;font-size:25px;letter-spacing:1.65px;color:#3a3a3a;">Less complexity to manage</div><div class="t" style="left:366px;top:705.0px;font-size:25px;letter-spacing:1.65px;color:#3a3a3a;">Faster resolution of problems</div><div class="t" style="left:366px;top:745.0px;font-size:25px;letter-spacing:1.65px;color:#3a3a3a;">Higher employee engagement</div><div class="t" style="left:366px;top:785.0px;font-size:25px;letter-spacing:1.65px;color:#3a3a3a;">Greater professional development opportunities</div><div class="t" style="left:366px;top:825.0px;font-size:25px;letter-spacing:1.65px;color:#3a3a3a;">Faster delivery of features</div><div class="t" style="left:366px;top:865.0px;font-size:25px;letter-spacing:1.65px;color:#3a3a3a;">More stable operating environments</div><div class="t" style="left:366px;top:905.5px;font-size:25px;letter-spacing:1.65px;color:#3a3a3a;">Improved communication and collaboration</div><div class="t" style="left:366px;top:944.5px;font-size:25px;letter-spacing:1.65px;color:#3a3a3a;">More time to innovate</div><div class="t" style="left:166.6px;width:160px;top:163.5px;font-size:11.5px;line-height:14.2px;text-align:center;color:rgba(255,255,255,.88);">Continuous<br>Business Planning</div><div class="t" style="left:55.7px;width:100px;top:238.5px;font-size:11.5px;line-height:14.1px;text-align:left;color:rgba(255,255,255,.88);">Collaborative<br>Customer<br>Feedback &amp;<br>Optimization</div><div class="t" style="left:351.400px;width:100px;top:248.500px;font-size:11.5px;line-height:14.2px;text-align:center;color:rgba(255,255,255,.88);">Collaborative<br>Development</div><div class="t" style="left:346.400px;width:100px;top:429.800px;font-size:11.5px;line-height:14.2px;text-align:center;color:rgba(255,255,255,.88);">Continuous<br>Testing</div><div class="t" style="left:166.9px;width:160px;top:517.8px;font-size:11.3px;line-height:14px;text-align:center;color:rgba(255,255,255,.88);">Continuous Release<br>and Development</div><div class="t" style="left:44px;width:100px;top:429.0px;font-size:11.5px;line-height:14.1px;text-align:center;color:rgba(255,255,255,.88);">Continuous<br>Monitoring</div><div class="t b c" style="left:126.600px;width:10px;top:283px;font-size:11px;color:#17bfcf;margin-left:2.200px">$</div><div class="t b c" style="left:146.600px;width:200px;top:341.600px;font-size:27.4px;color:#1bb8cc;">DevOps</div><div class="t c" style="left:586px;width:200px;top:290.0px;font-size:21.5px;line-height:27px;color:rgba(255,255,255,.92);">Automation</div><div class="t c" style="left:760px;width:200px;top:271.5px;font-size:21.5px;line-height:27px;color:rgba(255,255,255,.92);">Configuration<br>Management</div><div class="t c" style="left:586px;width:200px;top:379.5px;font-size:21.5px;line-height:27px;color:rgba(255,255,255,.92);color:#fff7dd;">Data<br>Virtualization</div><div class="t c" style="left:760px;width:200px;top:383.0px;font-size:21.5px;line-height:27px;color:rgba(255,255,255,.92);">Compute<br>Virtualization</div>
<div class="t b c" style="left:24px;width:300px;top:757px;font-size:30px;line-height:36.800px;letter-spacing:5.500px;color:#2a7fa0;-webkit-text-stroke:1.100px #2a7fa0;transform:scaleX(.87);">The Benefits of<br>DevOps</div>
</div>
<!-- ============ FOOTER ============ -->
<div class="sec" style="top:4456px;height:144px;background:#fff;">
<svg width="1000" height="144" viewBox="0 4456 1000 144">
  <rect x="0" y="4456" width="1000" height="31" fill="#277e9e"/>
  <!-- sparkle -->
  <g fill="#2aa6c4">
    <circle cx="173.600" cy="4518" r="2.400" fill="#1a3a9a"/>
    <circle cx="163" cy="4518" r="1.900"/><circle cx="184.200" cy="4518" r="1.900"/>
    <circle cx="165.800" cy="4510.800" r="1.800"/><circle cx="181.400" cy="4510.800" r="1.800"/>
    <circle cx="173.600" cy="4507.600" r="1.800"/>
    <g fill="#1a3a9a"><circle cx="157.500" cy="4518" r="1"/><circle cx="189.700" cy="4518" r="1"/><circle cx="161.800" cy="4507.200" r="1"/><circle cx="185.400" cy="4507.200" r="1"/><circle cx="173.600" cy="4502.500" r="1"/></g>
  </g>
  <text id="vlogo" transform="scale(0.96,1)" x="44.2 88.0 128.7 172.8 198.2 240.8 261.2" y="4565.5" font-family="DejaVu Sans Light, DejaVu Sans, sans-serif" font-weight="200" font-size="54.4" fill="#1a3a8a" stroke="#1a3a8a" stroke-width=".5">VERITIS</text>
  <!-- phone icon -->
  <circle cx="338" cy="4543" r="21.500" fill="#c9b3e0"/>
  <circle cx="338" cy="4543" r="17.500" fill="#7b4aa8"/>
  <path d="M331.500 4535.500 Q333.500 4533.500 335 4535.500 L337 4538.500 Q337.500 4540 336 4541 Q335 4542 336.500 4544 Q338.500 4547 340.500 4548 Q342 4549 343 4547.500 Q344 4546.500 345.500 4547.500 L348 4549.500 Q349.500 4551 347.500 4553 Q344.500 4555.500 339.500 4552 Q334 4548 331.500 4542.500 Q329.500 4537.500 331.500 4535.500 Z" fill="#fff"/>
  <path d="M339.500 4536 Q345 4536.500 345.500 4542 M339.500 4532.500 Q348.500 4533 349 4542" fill="none" stroke="#fff" stroke-width="1.500" stroke-linecap="round"/>
  <!-- telegram icon -->
  <circle cx="786" cy="4543" r="21.500" fill="#c5e3f8"/>
  <circle cx="786" cy="4543" r="17.500" fill="#3a9fe8"/>
  <path d="M776 4542.500 L796 4534.500 L792.500 4552 L786.500 4547.500 L783.500 4550.500 L783 4546 L791.500 4538.500 L781 4545 Z" fill="#fff"/>
</svg>
<div class="t" style="left:377.500px;top:77.500px;font-size:18px;letter-spacing:.8px;color:#6a3fa0;-webkit-text-stroke:.3px #6a3fa0;">1-877-VERITIS (283-7484), 972-753-0022</div>
<div class="t" style="left:822.500px;top:77.500px;font-size:18px;letter-spacing:.85px;color:#2a90d8;-webkit-text-stroke:.3px #2a90d8;">info@veritis.com</div>
</div>
</body>
</html>
